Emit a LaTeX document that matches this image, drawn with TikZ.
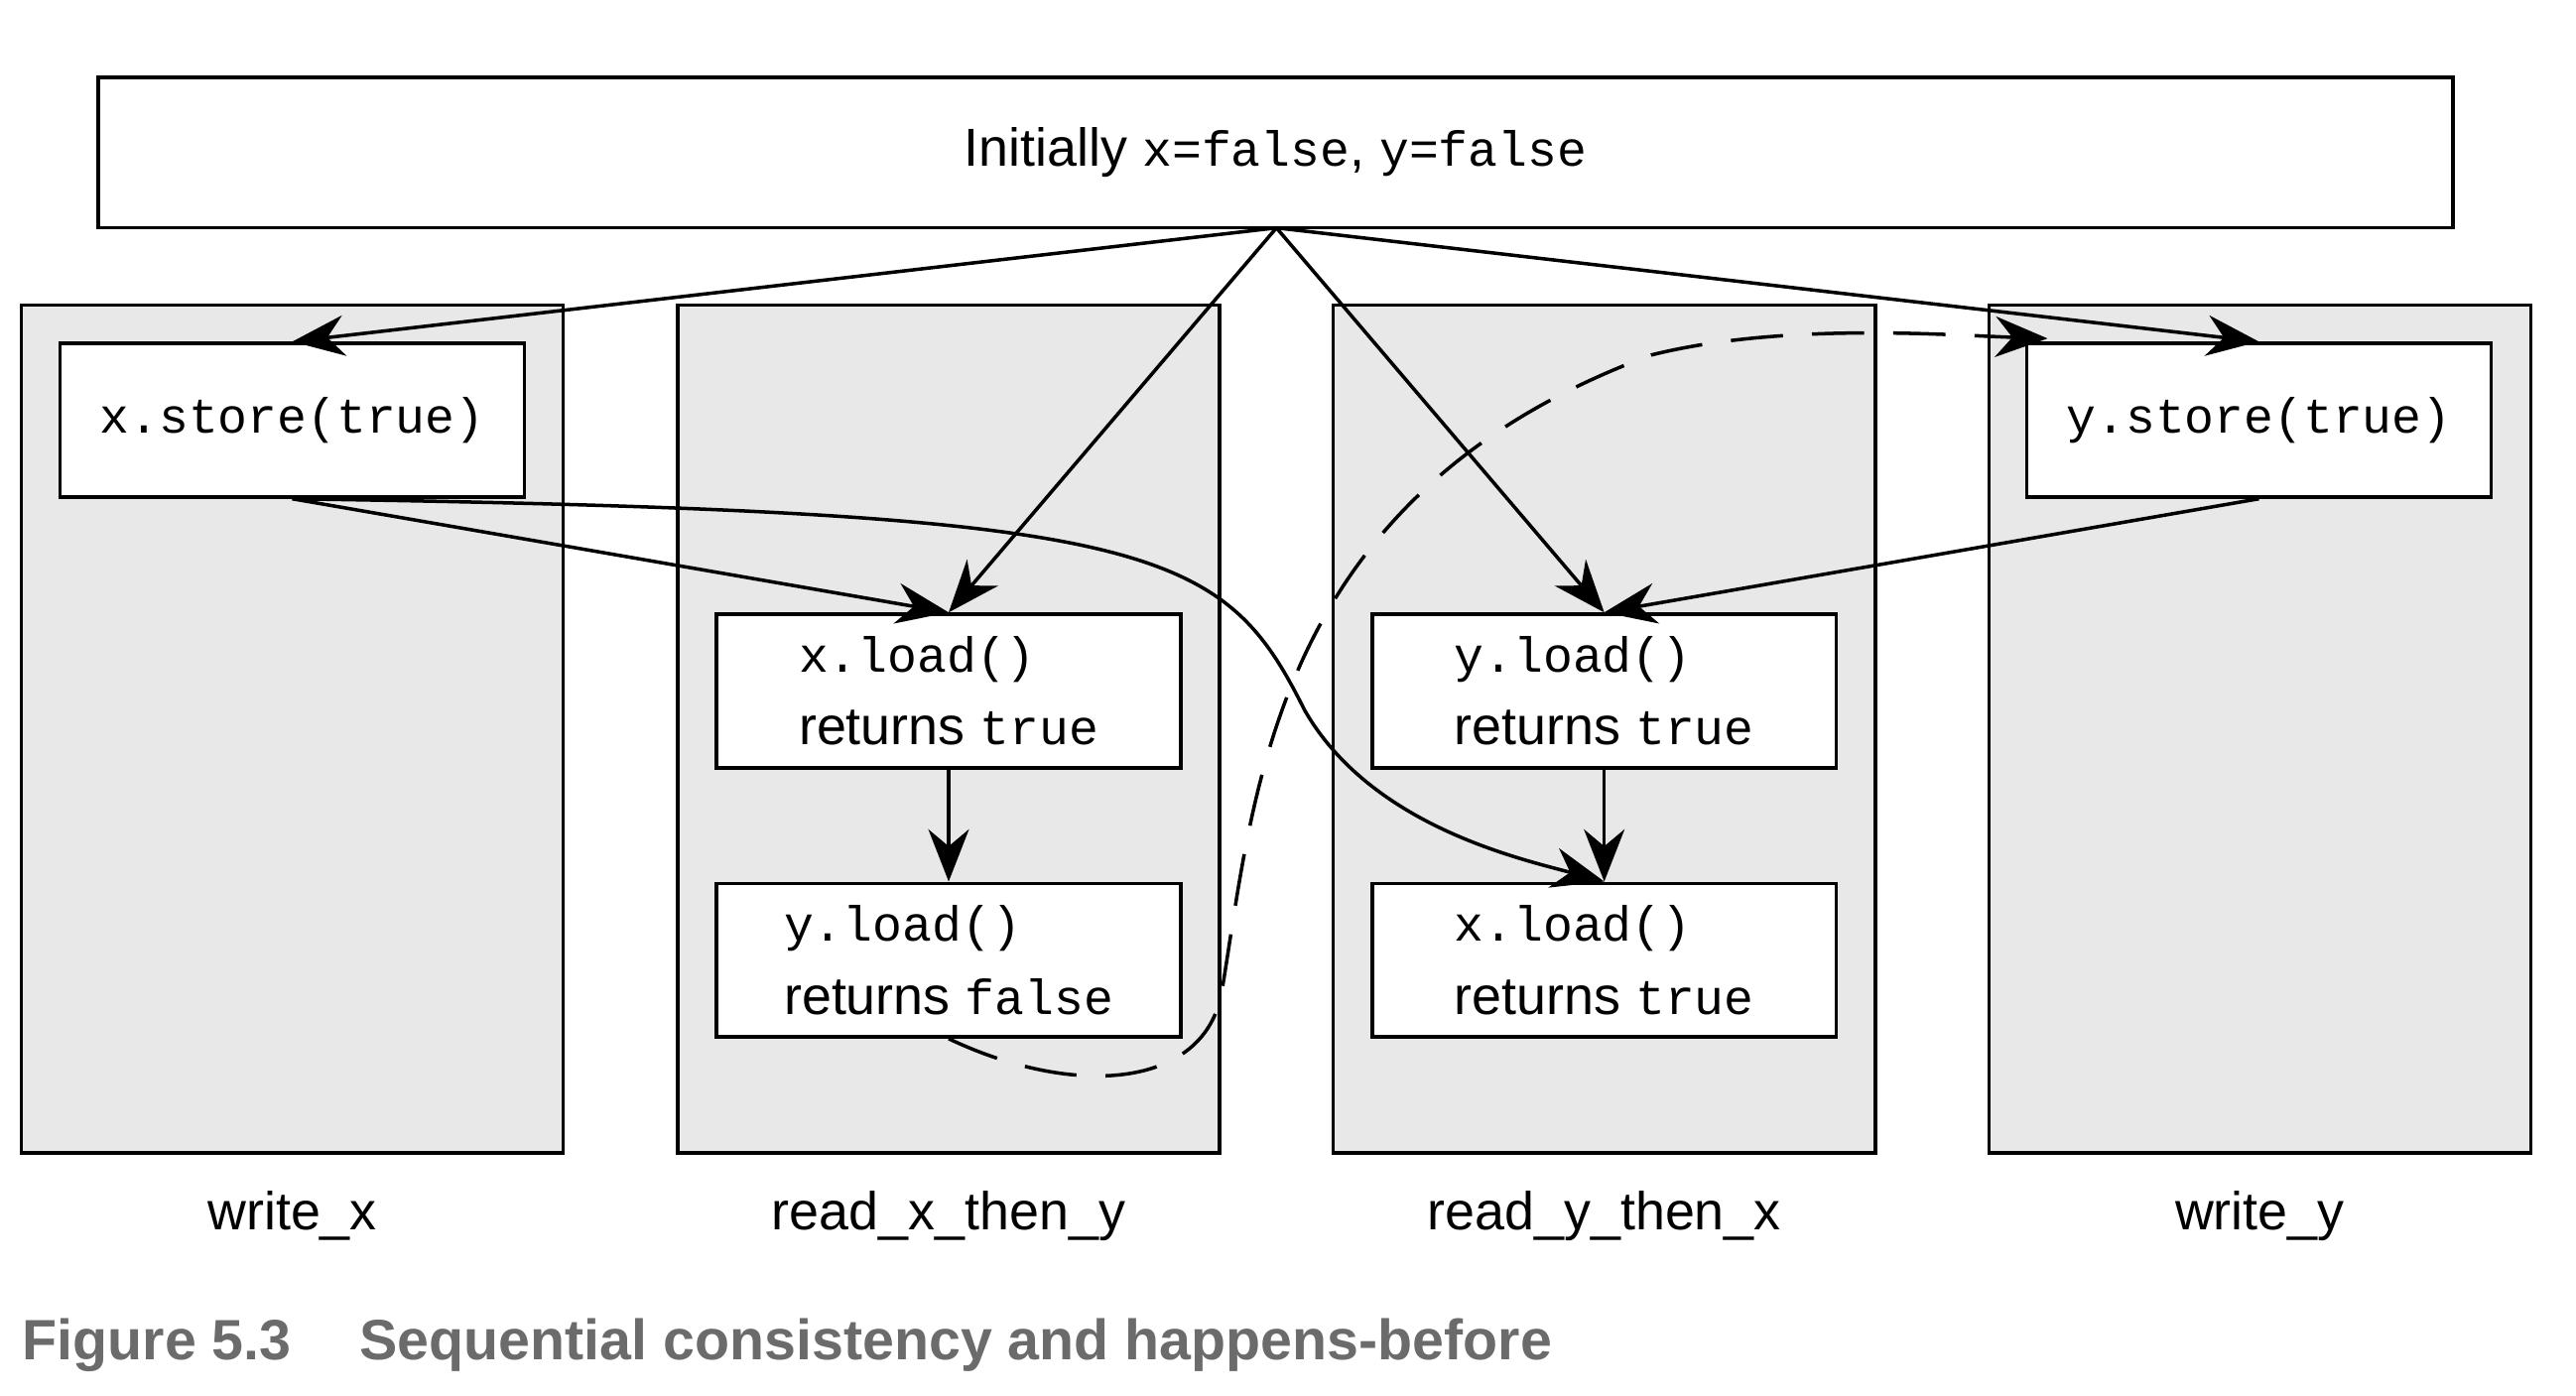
\documentclass[tikz,border=0pt]{standalone}
\usepackage{fontspec}
\setmainfont{Liberation Sans}
\setmonofont{Liberation Mono}
\usetikzlibrary{arrows.meta,positioning}
\definecolor{colbg}{gray}{0.91}
\definecolor{capgray}{gray}{0.42}
\newcommand{\cd}[1]{{\fontsize{8.5}{10}\ttfamily #1}}
\begin{document}
\begin{tikzpicture}[x=0.01cm,y=-0.01cm,
	column/.style={draw, fill=colbg, line width=0.6pt, minimum width=3.28cm, minimum height=5.13cm, inner sep=0pt},
	op/.style={draw, fill=white, line width=0.6pt, minimum width=2.81cm, minimum height=0.93cm, align=left, inner sep=0pt, font=\fontsize{9.2}{12.5}\selectfont},
	lbl/.style={font=\fontsize{9.2}{11}\selectfont},
	arr/.style={-{Stealth[length=9pt,width=7pt]}, line width=0.6pt}]
	\useasboundingbox (0,0) rectangle (1560,845);
	% Init box
	\node[draw, line width=0.6pt, minimum width=14.25cm, minimum height=0.91cm, font=\fontsize{9.2}{11}\selectfont] (init) at (772.5,92.5) {Initially \cd{x=false}, \cd{y=false}};
	\coordinate (apex) at (773,138);

	% Threads
	\node[column] (wx) at (177,441.5) {};
	\node[column] (rxy) at (574.5,441.5) {};
	\node[column] (ryx) at (971.5,441.5) {};
	\node[column] (wy) at (1368.5,441.5) {};
	\node[lbl, below=0.1cm of wx] {write\_x};
	\node[lbl, below=0.1cm of rxy] {read\_x\_then\_y};
	\node[lbl, below=0.1cm of ryx] {read\_y\_then\_x};
	\node[lbl, below=0.1cm of wy] {write\_y};

	% Operations
	\node[op] (sx) at (177,254.5) {\cd{x.store(true)}};
	\node[op] (sy) at (1368,254.5) {\cd{y.store(true)}};
	\node[op] (lx1) at (574.5,418.5) {\cd{x.load()}\\returns \cd{true}};
	\node[op] (ly1) at (574.5,581.5) {\cd{y.load()}\\returns \cd{false}};
	\node[op] (ly2) at (971.5,418.5) {\cd{y.load()}\\returns \cd{true}};
	\node[op] (lx2) at (971.5,581.5) {\cd{x.load()}\\returns \cd{true}};

	% Edges
	\draw[arr] (apex) -- (sx.north);
	\draw[arr] (apex) -- (lx1.north);
	\draw[arr] (apex) -- (ly2.north);
	\draw[arr] (apex) -- (sy.north);
	\draw[arr] (sx.south) -- (lx1.north);
	\draw[arr] (sy.south) -- (ly2.north);
	\draw[arr] (lx1) -- (ly1);
	\draw[arr] (ly2) -- (lx2);
	\draw[arr] (sx.south) .. controls (700,310) and (740,330) .. (790,430)
		.. controls (830,500) and (920,520) .. (lx2.north);
	\draw[arr, dashed, dash pattern=on 9pt off 5pt] (ly1.south) .. controls (650,665) and (730,660) .. (740,600)
		.. controls (760,480) and (770,300) .. (1000,215)
		.. controls (1080,195) and (1180,203) .. (1240,205);

	% Caption
	\node[anchor=west, inner sep=0pt, font=\fontsize{9.8}{12}\bfseries\selectfont, text=capgray] (cap) at (13,815) {Figure 5.3\hspace{1.2em}Sequential consistency and happens-before};
\end{tikzpicture}
\end{document}
